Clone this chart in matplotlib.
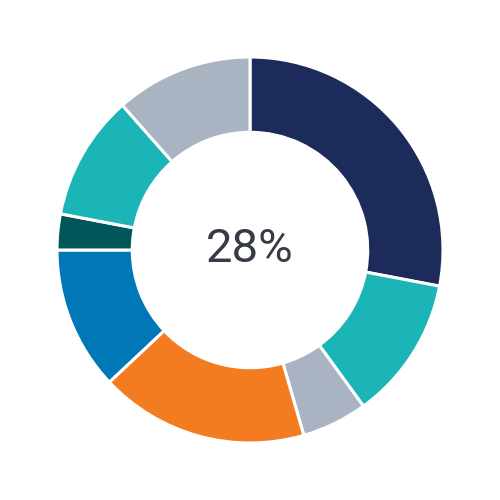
import matplotlib
matplotlib.use("Agg")
import matplotlib.pyplot as plt

# valores de los sectores (en %), empezando arriba y en sentido horario
valores = [28, 12, 5.5, 17.5, 12, 3, 10.5, 11.5]
colores = ["#1c2b5a", "#1bb5b7", "#a9b3c2", "#f47c20",
           "#0077b6", "#01565a", "#1bb5b7", "#a9b3c2"]
texto_centro = "28%"

fig = plt.figure(figsize=(5, 5), dpi=100)
ax = fig.add_axes([0, 0, 1, 1])
ax.pie(valores, colors=colores, startangle=90, counterclock=False,
       radius=1.0,
       wedgeprops=dict(width=0.39, edgecolor="white", linewidth=2.2))
ax.text(0, 0.03, texto_centro, ha="center", va="center_baseline",
        fontsize=34, color="#363b45", family="Roboto")
lim = 250 / 193
ax.set_xlim(-lim, lim)
ax.set_ylim(-lim, lim)
ax.set_aspect("equal")
ax.axis("off")
fig.savefig("out.png", dpi=100, facecolor="white")
